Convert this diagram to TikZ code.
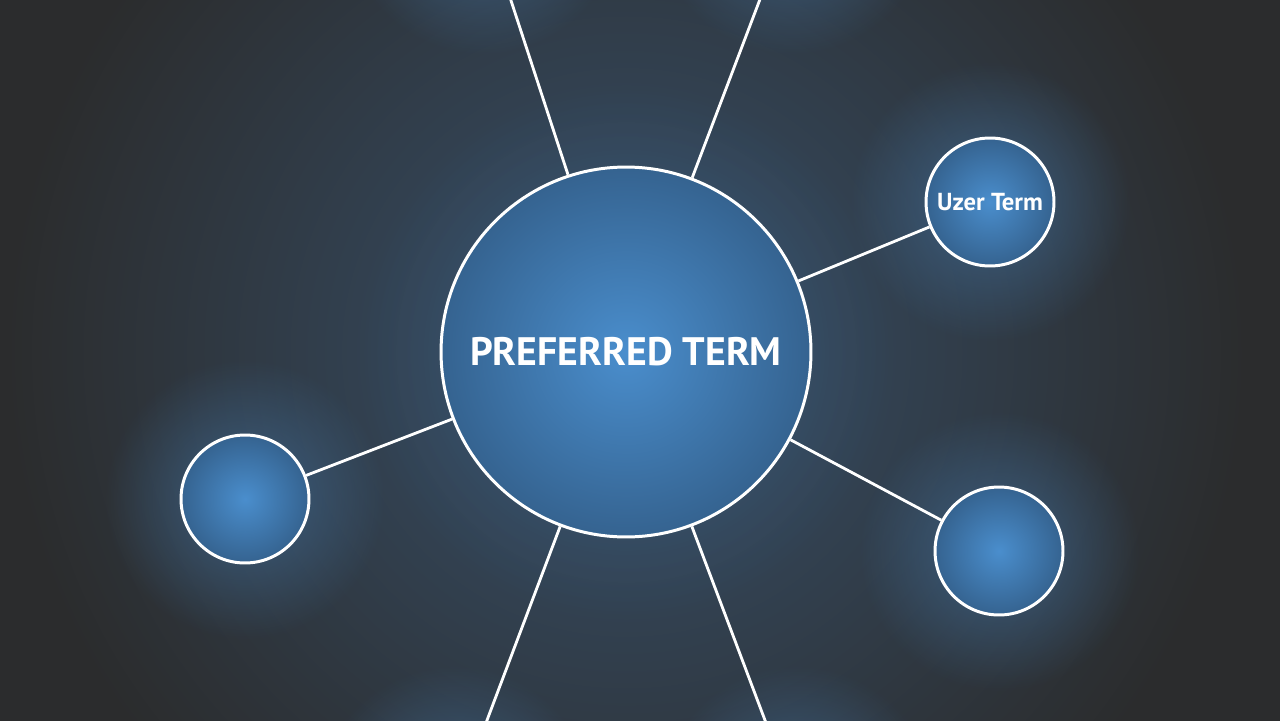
\documentclass[tikz,border=0pt]{standalone}
\usepackage{fontspec}
\setmainfont{PT Sans}
\usetikzlibrary{fadings}
\definecolor{bgdark}{HTML}{2B2C2D}
\definecolor{bgmid}{HTML}{37506A}
\definecolor{termlight}{HTML}{4A8ECD}
\definecolor{termdeep}{HTML}{356390}
\definecolor{glowblue}{HTML}{4A86C0}
\tikzfading[name=halofade, inner color=transparent!0, outer color=transparent!100]

\begin{document}
\begin{tikzpicture}[x=0.02cm,y=-0.02cm,
    term/.style={circle, draw=white, line width=1.7pt, inner color=termlight, outer color=termdeep, text=white},
    bigterm/.style={term, minimum size=7.4cm, font=\bfseries\fontsize{22.6}{26}\selectfont},
    smallterm/.style={term, minimum size=2.56cm, font=\bfseries\fontsize{14}{16}\selectfont},
    link/.style={draw=white, line width=1.6pt},
    glow/.style={fill=glowblue, fill opacity=0.5, path fading=halofade}]

    % backdrop
    \useasboundingbox (0,0) rectangle (1280,720);
    \fill[bgdark] (-10,-10) rectangle (1290,730);
    \begin{scope}
    \clip (-5,-5) rectangle (1285,725);
    \shade[inner color=bgmid, outer color=bgdark] (626,352) circle (620);

    % halos
    \foreach \p in {(990,202),(245,499),(999,551),(483,-85),(792,-85),(455,805),(797,805)}
        \fill[glow] \p circle (140);
    \fill[glow, fill opacity=0.3] (626,352) circle (270);

    % terms
    \node[bigterm] (preferred) at (626,352) {PREFERRED TERM};
    \node[smallterm] (user) at (990,202) {Uzer Term};
    \node[smallterm] (left) at (245,499) {};
    \node[smallterm] (right) at (999,551) {};
    \node[smallterm] (topleft) at (483,-85) {};
    \node[smallterm] (topright) at (792,-85) {};
    \node[smallterm] (botleft) at (455,805) {};
    \node[smallterm] (botright) at (797,805) {};

    \draw[link] (preferred) -- (user);
    \draw[link] (preferred) -- (left);
    \draw[link] (preferred) -- (right);
    \draw[link] (preferred) -- (topleft);
    \draw[link] (preferred) -- (topright);
    \draw[link] (preferred) -- (botleft);
    \draw[link] (preferred) -- (botright);
    \end{scope}
\end{tikzpicture}
\end{document}
